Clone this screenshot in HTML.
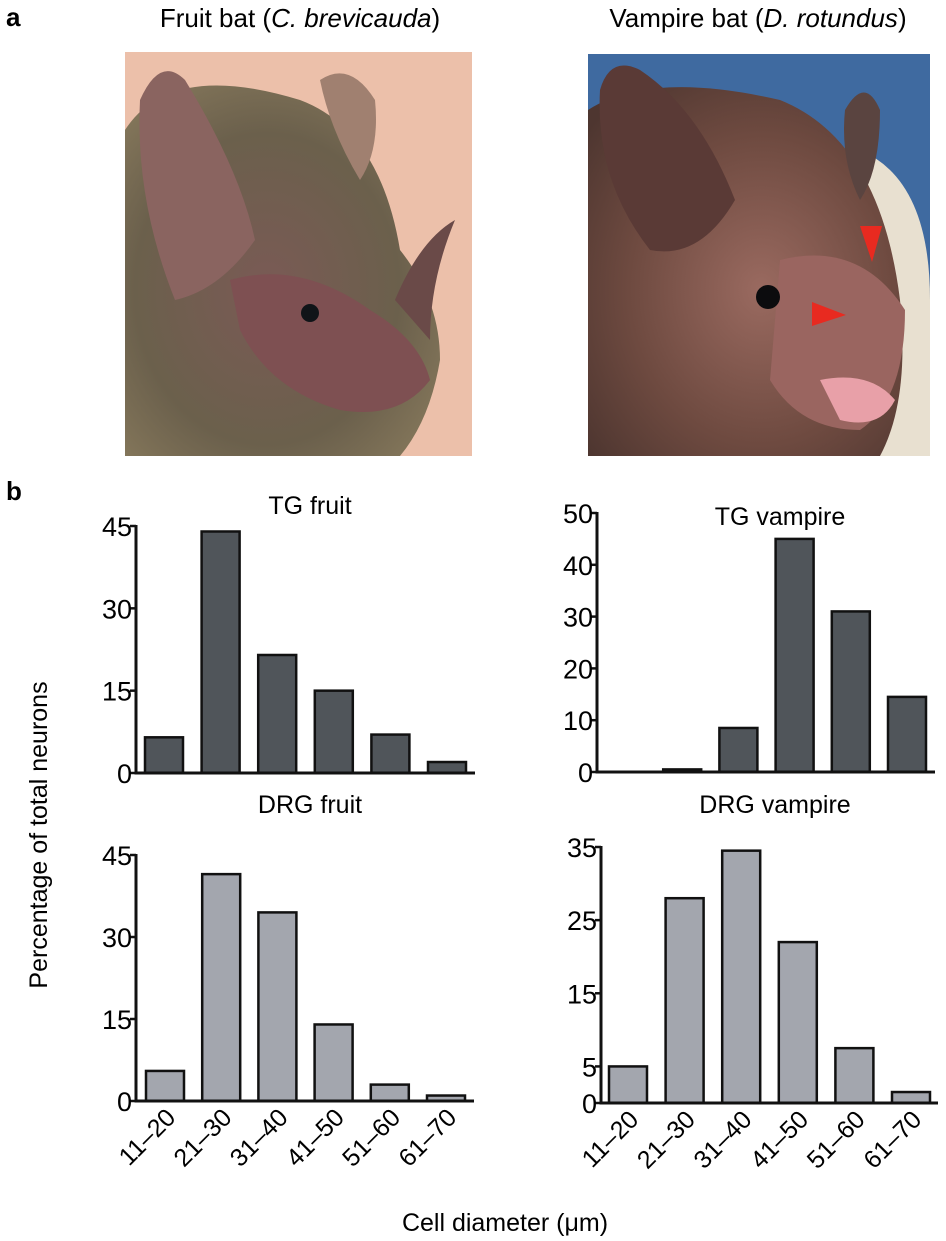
<!DOCTYPE html>
<html><head><meta charset="utf-8"><style>
body{margin:0;background:#fff;width:946px;height:1241px;overflow:hidden;font-family:"Liberation Sans",sans-serif;}
svg{display:block}
</style></head><body>
<svg width="946" height="1241" viewBox="0 0 946 1241" font-family="Liberation Sans, sans-serif">
<defs>
<radialGradient id="fb" cx="0.45" cy="0.55" r="0.7"><stop offset="0" stop-color="#7a5a55"/><stop offset="0.6" stop-color="#6b604c"/><stop offset="1" stop-color="#8a7c5e"/></radialGradient>
<radialGradient id="vb" cx="0.55" cy="0.55" r="0.7"><stop offset="0" stop-color="#9a6a60"/><stop offset="0.6" stop-color="#6e4a40"/><stop offset="1" stop-color="#4e3630"/></radialGradient>
</defs>
<text x="6" y="26" font-size="26" font-weight="bold">a</text>
<text x="300" y="27" font-size="26" text-anchor="middle">Fruit bat (<tspan font-style="italic">C. brevicauda</tspan>)</text>
<text x="758" y="27" font-size="26" text-anchor="middle">Vampire bat (<tspan font-style="italic">D. rotundus</tspan>)</text>
<g>
<rect x="125" y="52" width="347" height="404" fill="#ecc0aa"/>
<path d="M125 456 L125 130 Q170 60 300 100 Q380 130 400 250 Q440 300 440 360 Q430 420 400 456 Z" fill="url(#fb)"/>
<path d="M140 100 Q160 55 185 80 Q240 170 255 240 Q220 290 175 300 Q135 200 140 100 Z" fill="#8a6460"/>
<path d="M320 80 Q350 60 375 100 Q380 150 360 180 Q330 130 320 80 Z" fill="#a08070"/>
<path d="M230 280 Q300 260 370 310 Q420 340 430 380 Q400 420 340 410 Q270 390 240 330 Z" fill="#7e5052"/>
<path d="M395 300 Q420 240 455 220 Q430 280 430 340 Z" fill="#6a4a48"/>
<circle cx="310" cy="313" r="9" fill="#101418"/>
</g>
<g>
<rect x="588" y="54" width="342" height="402" fill="#3f6aa0"/>
<path d="M860 150 Q930 180 930 300 L930 456 L860 456 Z" fill="#e8e0d0"/>
<path d="M588 456 L588 110 Q650 70 780 100 Q880 140 900 300 Q910 400 880 456 Z" fill="url(#vb)"/>
<path d="M600 90 Q610 55 640 70 Q700 110 735 200 Q700 260 650 250 Q595 180 600 90 Z" fill="#5a3a36"/>
<path d="M845 110 Q865 75 880 110 Q880 170 860 200 Q840 160 845 110 Z" fill="#5a4440"/>
<path d="M780 260 Q860 240 905 310 Q905 400 860 430 Q800 430 770 380 Z" fill="#9a6560"/>
<path d="M820 380 Q870 370 895 400 Q880 430 840 420 Z" fill="#e8a0a8"/>
<circle cx="768" cy="297" r="12" fill="#0c0c0e"/>
<polygon points="860,226 882,226 872,262" fill="#e82a20"/>
<polygon points="812,302 812,326 846,315" fill="#e82a20"/>
</g>
<text x="6" y="500" font-size="26" font-weight="bold">b</text>
<text x="0" y="0" font-size="25" text-anchor="middle" transform="translate(47,835) rotate(-90)">Percentage  of total neurons</text>
<text x="505" y="1231" font-size="25" text-anchor="middle">Cell diameter (μm)</text>
<g id="charts"></g>
</svg>
<script>
const categories = ["11–20","21–30","31–40","41–50","51–60","61–70"];
const tgFruit = [6.5, 44, 21.5, 15, 7, 2];
const tgVampire = [0, 0.5, 8.5, 45, 31, 14.5];
const drgFruit = [5.5, 41.5, 34.5, 14, 3, 1];
const drgVampire = [5, 28, 34.5, 22, 7.5, 1.5];
const ticksTgFruit = [0, 15, 30, 45];
const ticksTgVampire = [0, 10, 20, 30, 40, 50];
const ticksDrgFruit = [0, 15, 30, 45];
const ticksDrgVampire = [0, 5, 15, 25, 35];
const NS = "http://www.w3.org/2000/svg";
const root = document.getElementById('charts');
function mk(tag, attrs, parent){const e=document.createElementNS(NS,tag);for(const k in attrs)e.setAttribute(k,attrs[k]);parent.appendChild(e);return e;}
function chart(cfg){
  const g = mk('g',{},root);
  
  
  const y = v => cfg.y0 - (v - 0) / cfg.vmax * (cfg.y0 - cfg.yTop);
  const x = i => cfg.bx0 + i * cfg.pitch;
  const t = mk('text',{x:cfg.tx,y:cfg.ty,'font-size':25,'text-anchor':'middle'},g);
  t.textContent = cfg.title;
  
  
  cfg.values.forEach((v,i)=>{
    const r = mk('rect',{x:x(i),y:y(v),width:cfg.bw,height:Math.max(0,cfg.y0-y(v)),fill:cfg.color,stroke:'#111','stroke-width':2.5},g);
    
    
  });
  const ax = mk('path',{d:`M${cfg.ax} ${y(cfg.vmax)-1} L${cfg.ax} ${cfg.y0} L${cfg.axEnd} ${cfg.y0}`,fill:'none',stroke:'#111','stroke-width':3},g);
  
  
  cfg.ticks.forEach(tv=>{
    mk('line',{x1:cfg.ax-6,x2:cfg.ax,y1:y(tv),y2:y(tv),stroke:'#111','stroke-width':2.5},g);
    const tl = mk('text',{x:cfg.ax-4,y:y(tv)+10,'font-size':27,'text-anchor':'end'},g);
    tl.textContent = tv;
    
    
  });
  if(cfg.xlabels){
    categories.forEach((c,i)=>{
      const cx = x(i)+cfg.bw/2+12, cy = cfg.y0+18;
      const tl = mk('text',{x:0,y:0,'font-size':25,'text-anchor':'end',transform:`translate(${cx},${cy}) rotate(-45)`},g);
      tl.textContent = c;
      
      
    });
  }
}
chart({name:'tg-fruit-chart',title:'TG fruit',tx:310,ty:514,values:tgFruit,ticks:ticksTgFruit,vmax:45,y0:773,yTop:526,ax:136,axEnd:475,bx0:145,pitch:56.6,bw:38,color:'#50555a'});
chart({name:'tg-vampire-chart',title:'TG vampire',tx:780,ty:525,values:tgVampire,ticks:ticksTgVampire,vmax:50,y0:772,yTop:513,ax:597,axEnd:935,bx0:607,pitch:56.2,bw:38,color:'#50555a'});
chart({name:'drg-fruit-chart',title:'DRG fruit',tx:310,ty:813,values:drgFruit,ticks:ticksDrgFruit,vmax:45,y0:1101,yTop:855,ax:136,axEnd:474,bx0:146,pitch:56.2,bw:38,color:'#a3a6ae',xlabels:true});
chart({name:'drg-vampire-chart',title:'DRG vampire',tx:775,ty:813,values:drgVampire,ticks:ticksDrgVampire,vmax:35,y0:1103,yTop:847,ax:601,axEnd:938,bx0:609,pitch:56.6,bw:38,color:'#a3a6ae',xlabels:true});
</script>
</body></html>
